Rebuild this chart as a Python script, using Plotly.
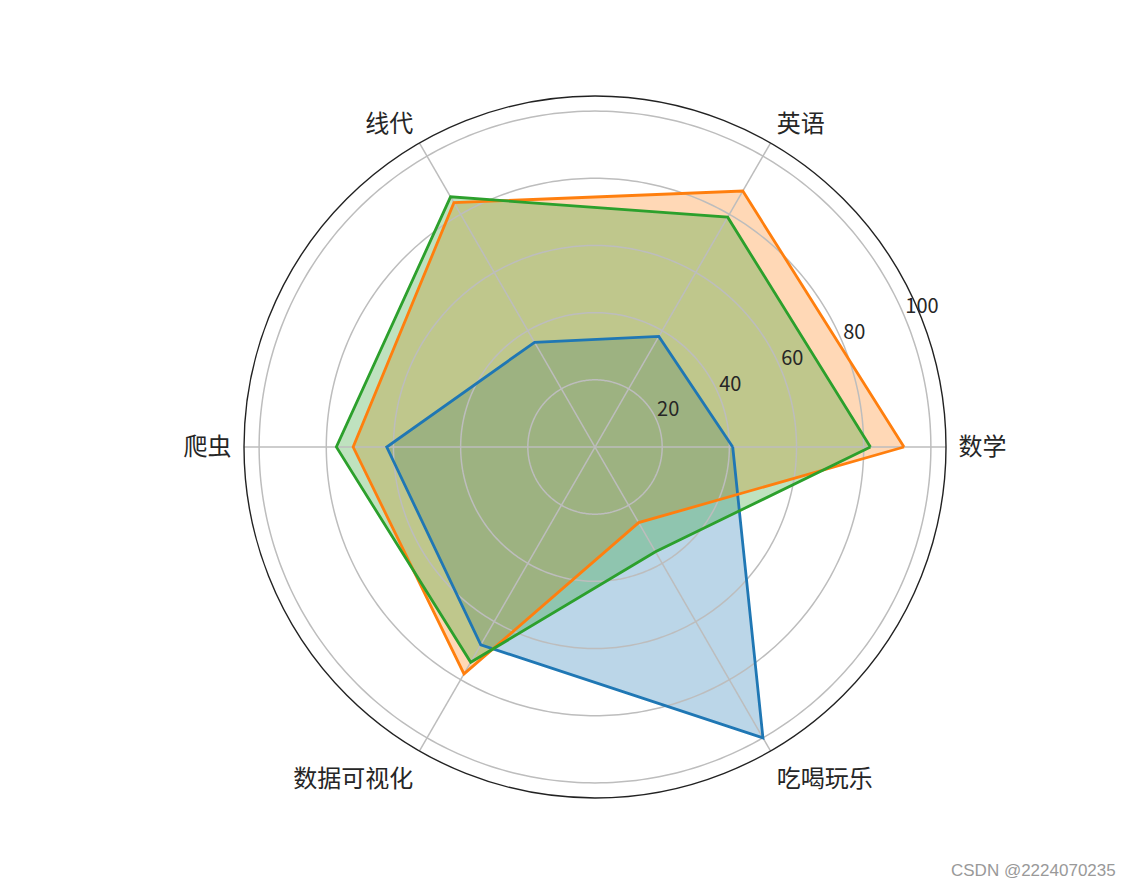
import numpy as np
import plotly.graph_objects as go

# subjects and scores
subjects = ["数学", "英语", "线代", "爬虫", "数据可视化", "吃喝玩乐"]
angles = [0, 60, 120, 180, 240, 300]
scores_a = [41, 38, 36, 62, 68, 100]
scores_b = [92, 88, 84, 72, 78, 26]
scores_c = [82, 79, 86, 77, 74, 36]
radial_ticks = [20, 40, 60, 80, 100]

colors = ["#1f77b4", "#ff7f0e", "#2ca02c"]
fills = ["rgba(31,119,180,0.3)", "rgba(255,127,14,0.3)", "rgba(44,160,44,0.3)"]
series = [scores_a, scores_b, scores_c]
rmax = 104.5
grid_col = "#bdbdbd"

fig = go.Figure()

# fills first
for vals, f in zip(series, fills):
    fig.add_trace(go.Scatterpolar(
        r=vals + vals[:1],
        theta=angles + angles[:1],
        mode="lines",
        line=dict(width=0),
        fill="toself",
        fillcolor=f,
        hoverinfo="skip",
    ))

# grid above the fills, below the lines (matplotlib order)
circle = np.linspace(0, 360, 361)
for t in radial_ticks:
    fig.add_trace(go.Scatterpolar(
        r=[t] * len(circle), theta=circle, mode="lines",
        line=dict(color=grid_col, width=1.5), hoverinfo="skip",
    ))
for a in angles:
    fig.add_trace(go.Scatterpolar(
        r=[0, rmax], theta=[a, a], mode="lines",
        line=dict(color=grid_col, width=1.5), hoverinfo="skip",
    ))

for vals, c in zip(series, colors):
    fig.add_trace(go.Scatterpolar(
        r=vals + vals[:1],
        theta=angles + angles[:1],
        mode="lines",
        line=dict(color=c, width=2.8),
        hoverinfo="skip",
    ))

# radial tick labels along 22.5 degrees
fig.add_trace(go.Scatterpolar(
    r=radial_ticks, theta=[22.5] * len(radial_ticks),
    mode="text", text=[str(t) for t in radial_ticks],
    textposition="top right",
    textfont=dict(size=20, color="#262626"),
    cliponaxis=False, hoverinfo="skip",
))

dx = -8 / 1127
dy = 7 / 879
fig.update_layout(
    width=1127,
    height=879,
    margin=dict(l=0, r=0, t=0, b=0),
    paper_bgcolor="white",
    showlegend=False,
    font=dict(family="Noto Sans CJK SC", color="#262626"),
    polar=dict(
        domain=dict(x=[244 / 1127 + dx, 946 / 1127 + dx],
                    y=[82 / 879 + dy, 784 / 879 + dy]),
        bgcolor="white",
        radialaxis=dict(
            range=[0, rmax],
            showgrid=False,
            showline=False,
            showticklabels=False,
            ticks="",
        ),
        angularaxis=dict(
            rotation=0,
            direction="counterclockwise",
            tickmode="array",
            tickvals=angles,
            ticktext=subjects,
            showgrid=False,
            showline=True,
            linecolor="#222222",
            linewidth=1.4,
            ticks="outside",
            ticklen=7,
            tickcolor="rgba(0,0,0,0)",
            tickfont=dict(size=24, color="#262626"),
        ),
    ),
    annotations=[dict(
        text="CSDN @2224070235",
        x=1110 / 1127, y=(879 - 862) / 879,
        xref="paper", yref="paper",
        xanchor="right", yanchor="middle",
        showarrow=False,
        font=dict(family="Liberation Sans", size=17, color="#999999"),
    )],
)

fig.write_html("out.html")
